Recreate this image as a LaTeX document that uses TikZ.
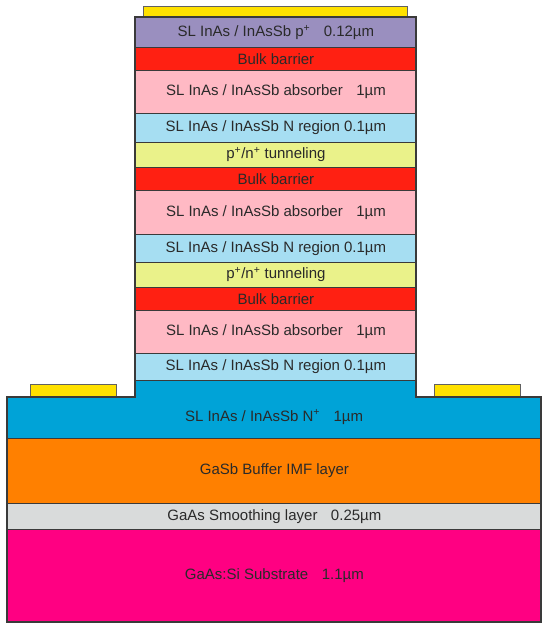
\documentclass[tikz,border=0pt]{standalone}
\usepackage{fontspec}
\setmainfont{Liberation Sans}
\definecolor{linec}{HTML}{3A3A3A}
\definecolor{txt}{HTML}{2A2A2A}
\definecolor{cpplus}{HTML}{9A8FBF}
\definecolor{cbar}{HTML}{FF2012}
\definecolor{cabs}{HTML}{FFB9C4}
\definecolor{cnreg}{HTML}{A6DEF2}
\definecolor{ctun}{HTML}{EAF28A}
\definecolor{cnplus}{HTML}{00A3D7}
\definecolor{cbuf}{HTML}{FF8000}
\definecolor{csmooth}{HTML}{D9DBDB}
\definecolor{csub}{HTML}{FF0082}
\definecolor{ccont}{HTML}{FFE100}
\tikzset{
  layer/.style={draw=linec, line width=0.8pt, inner sep=0pt, anchor=north west,
    text=txt, font=\fontsize{15}{18}\selectfont},
  mesa/.style={layer, minimum width=281pt},
  base/.style={layer, minimum width=534pt},
  contact/.style={draw=linec!80, line width=0.6pt, fill=ccont, inner sep=0pt, anchor=north west},
  outline/.style={draw=linec, line width=1.6pt},
  lbl/.style={text=txt, font=\fontsize{15}{18}\selectfont, inner sep=0pt}
}
\begin{document}
\begin{tikzpicture}[x=1pt,y=-1pt]
\useasboundingbox (0,0) rectangle (550,634);
% contacts
\node[contact, minimum width=264pt, minimum height=11pt] (ctop) at (143,6) {};
\node[contact, minimum width=86pt, minimum height=13pt] (cleft) at (30,384) {};
\node[contact, minimum width=86pt, minimum height=13pt] (cright) at (434,384) {};
% mesa layers
\node[mesa, fill=cpplus, minimum height=30pt] (l1) at (135,17) {SL InAs / InAsSb p\textsuperscript{+}\hspace{0.9em}0.12µm};
\node[mesa, fill=cbar, minimum height=23pt] (l2) at (135,47) {Bulk barrier};
\node[mesa, fill=cabs, minimum height=43pt] (l3) at (135,70) {SL InAs / InAsSb absorber\hspace{0.9em}1µm};
\node[mesa, fill=cnreg, minimum height=29pt] (l4) at (135,113) {SL InAs / InAsSb N region 0.1µm};
\node[mesa, fill=ctun, minimum height=25pt] (l5) at (135,142) {p\textsuperscript{+}/n\textsuperscript{+} tunneling};
\node[mesa, fill=cbar, minimum height=23pt] (l6) at (135,167) {Bulk barrier};
\node[mesa, fill=cabs, minimum height=44pt] (l7) at (135,190) {SL InAs / InAsSb absorber\hspace{0.9em}1µm};
\node[mesa, fill=cnreg, minimum height=28pt] (l8) at (135,234) {SL InAs / InAsSb N region 0.1µm};
\node[mesa, fill=ctun, minimum height=25pt] (l9) at (135,262) {p\textsuperscript{+}/n\textsuperscript{+} tunneling};
\node[mesa, fill=cbar, minimum height=23pt] (l10) at (135,287) {Bulk barrier};
\node[mesa, fill=cabs, minimum height=43pt] (l11) at (135,310) {SL InAs / InAsSb absorber\hspace{0.9em}1µm};
\node[mesa, fill=cnreg, minimum height=27pt] (l12) at (135,353) {SL InAs / InAsSb N region 0.1µm};
% N+ layer (T shape)
\draw[draw=linec, line width=0.8pt, fill=cnplus] (135,380) -- (416,380) -- (416,397) -- (541,397) -- (541,438) -- (7,438) -- (7,397) -- (135,397) -- cycle;
\node[lbl] (nplus) at (274,417) {SL InAs / InAsSb N\textsuperscript{+}\hspace{0.9em}1µm};
% base layers
\node[base, fill=cbuf, minimum height=65pt] (buf) at (7,438) {GaSb Buffer IMF layer};
\node[base, fill=csmooth, minimum height=26pt] (smooth) at (7,503) {GaAs Smoothing layer\hspace{0.9em}0.25µm};
\node[base, fill=csub, minimum height=93pt] (sub) at (7,529) {GaAs:Si Substrate\hspace{0.9em}1.1µm};
% outer outline
\draw[outline] (135,17) -- (416,17) -- (416,397) -- (541,397) -- (541,622) -- (7,622) -- (7,397) -- (135,397) -- cycle;
\end{tikzpicture}
\end{document}
